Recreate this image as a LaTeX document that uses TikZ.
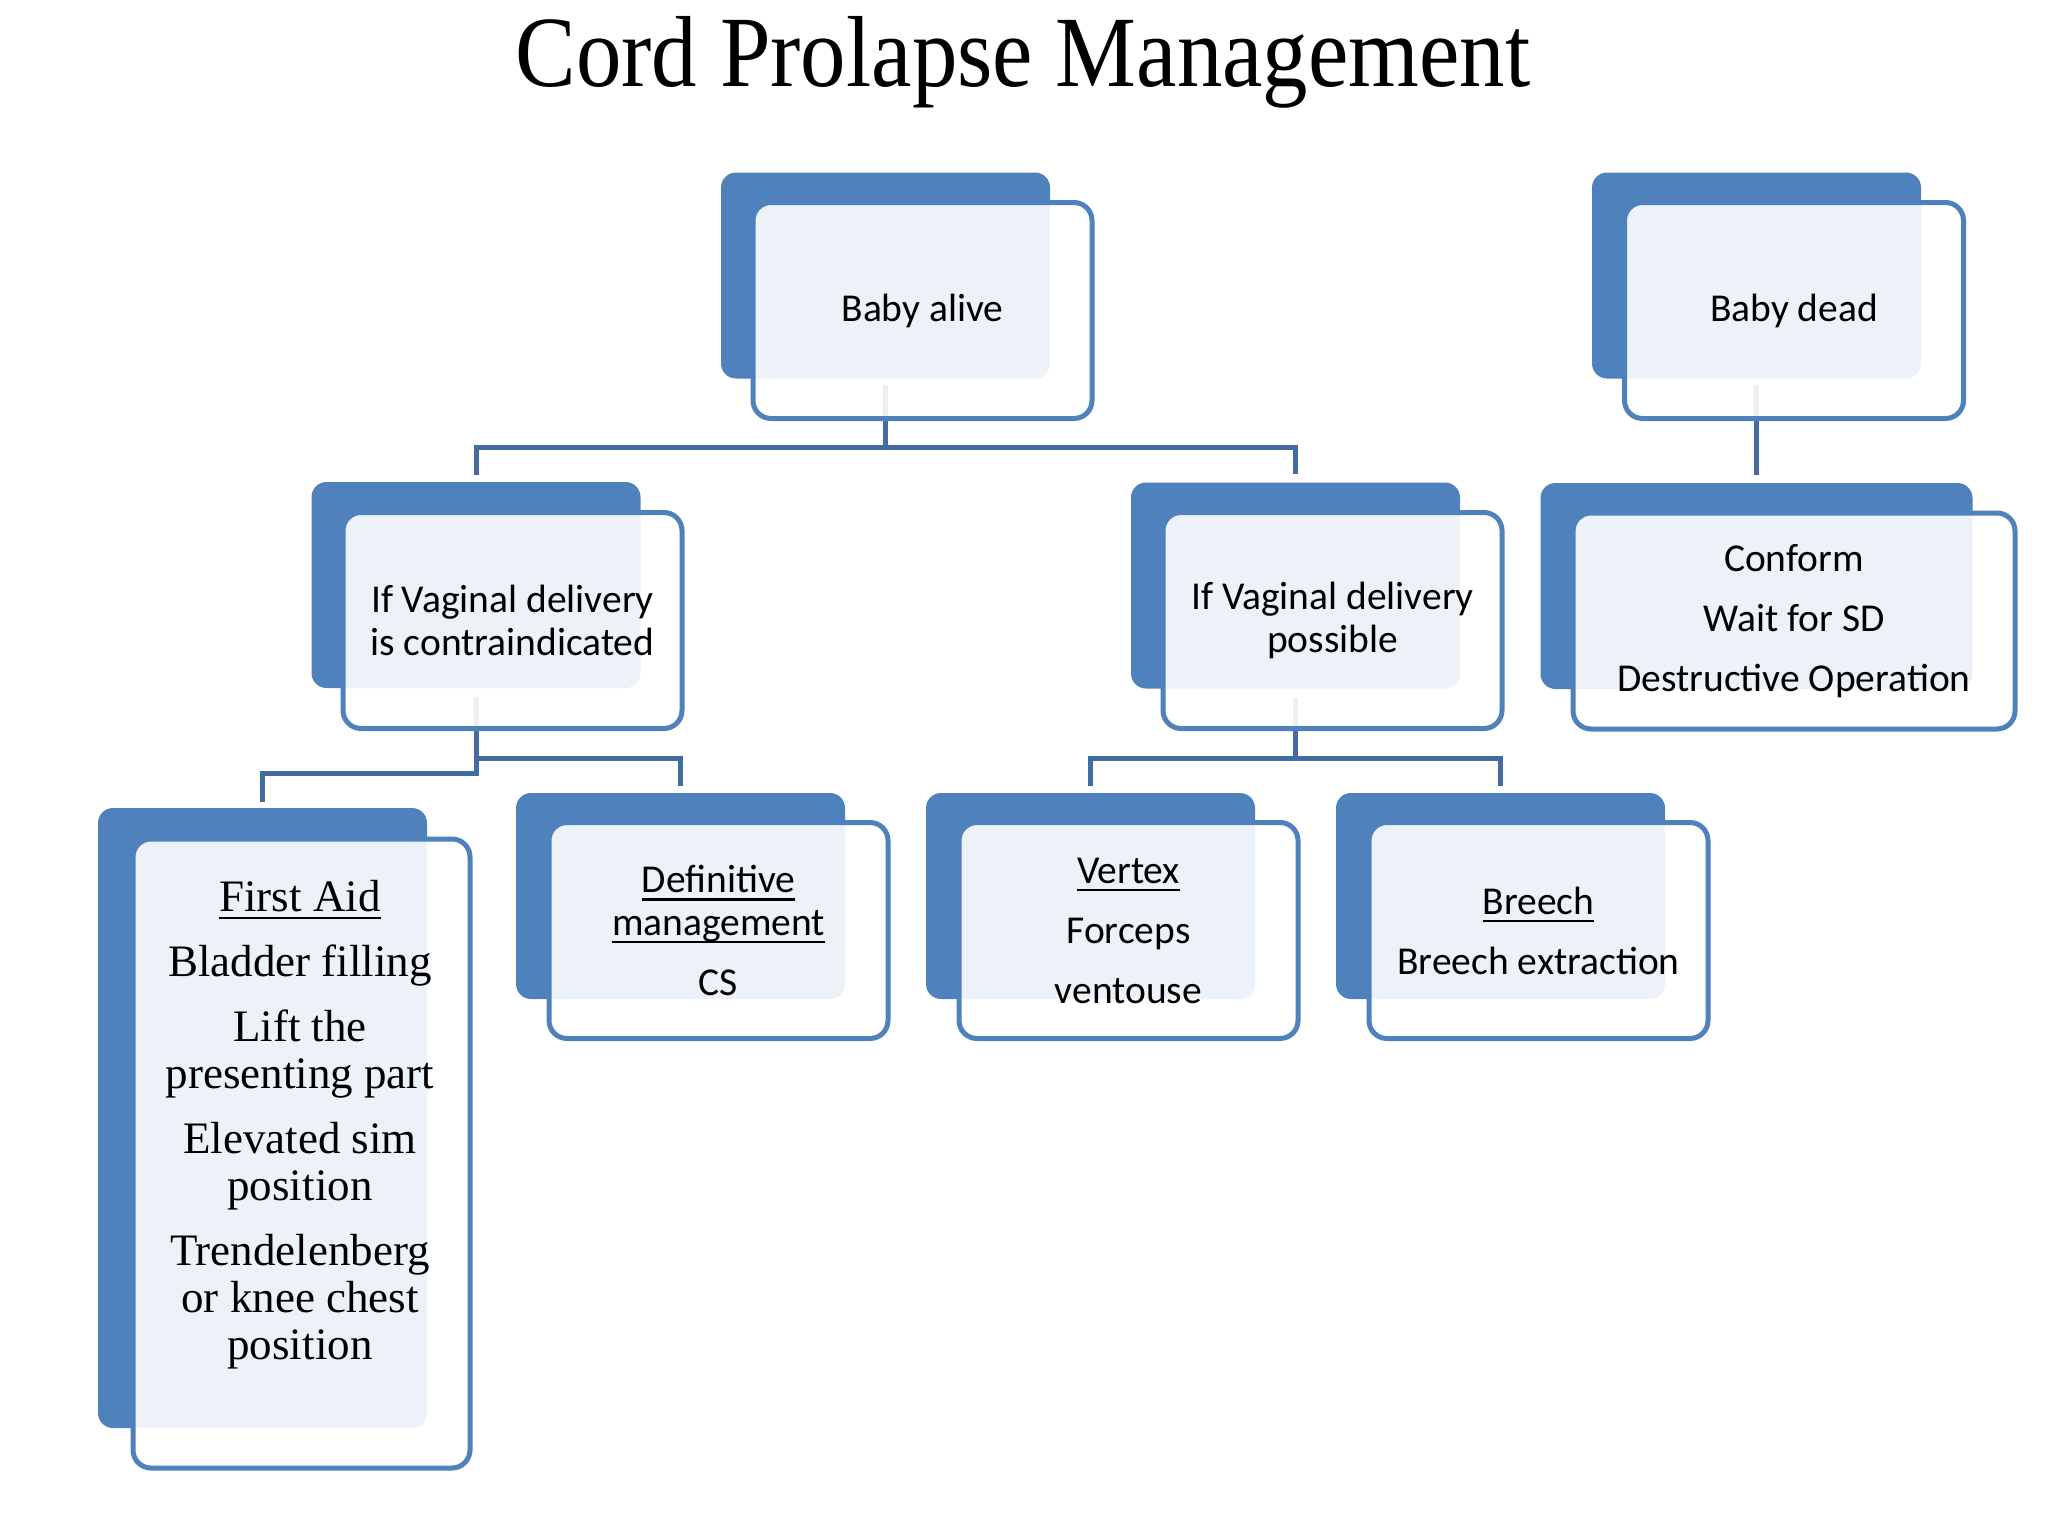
\documentclass[tikz,border=0pt]{standalone}
\usepackage{fontspec}
\setmainfont{Carlito}
\newfontfamily\timesfont{Liberation Serif}
\definecolor{saBlue}{RGB}{79,129,189}
\definecolor{saLink}{RGB}{67,108,163}
\newcommand{\ulbox}[1]{\leavevmode\setbox0\hbox{#1}\rlap{\rule[-8pt]{\wd0}{2.5pt}}\box0}
\tikzset{
  backbox/.style={fill=saBlue,rounded corners=15pt,inner sep=0pt,minimum width=329pt,minimum height=206pt},
  frontbox/.style={draw=saBlue,line width=5pt,fill=white,fill opacity=0.9,text opacity=1,rounded corners=18pt,inner sep=0pt,
    minimum width=339pt,minimum height=216pt,align=center,font=\fontsize{39.5}{42.5}\selectfont},
  link/.style={draw=saLink,line width=5pt}
}

\begin{document}
\begin{tikzpicture}[x=1pt,y=-1pt]
  \path[use as bounding box,fill=white] (0,0) rectangle (2048,1536);
  \node[anchor=base,font=\timesfont\fontsize{101}{110}\selectfont] (title) at (1023,87) {\scalebox{0.9}[1]{Cord Prolapse Management}};
  % back plates
  \node[backbox] (aliveB) at (885.5,275.5) {};
  \node[backbox] (deadB) at (1756.5,275.5) {};
  \node[backbox] (contraB) at (476,585) {};
  \node[backbox] (possibleB) at (1295.5,585.5) {};
  \node[backbox,minimum width=432pt] (conformB) at (1756.5,586) {};
  \node[backbox,minimum height=620pt] (firstB) at (262.5,1118) {};
  \node[backbox] (defB) at (680.5,896) {};
  \node[backbox] (vertexB) at (1090.5,896) {};
  \node[backbox] (breechB) at (1500.5,896) {};
  % connectors
  \draw[link,shorten <=6pt,shorten >=7pt] (aliveB.south) -- ++(0,69) -| (contraB.north);
  \draw[link,shorten <=6pt,shorten >=8pt] (aliveB.south) -- ++(0,69) -| (possibleB.north);
  \draw[link,shorten <=6pt,shorten >=8pt] (deadB.south) -- (conformB.north);
  \draw[link,shorten <=9pt,shorten >=6pt] (contraB.south) -- ++(0,85) -| (firstB.north);
  \draw[link,shorten <=9pt,shorten >=7pt] (contraB.south) -- ++(0,70) -| (defB.north);
  \draw[link,shorten <=9pt,shorten >=7pt] (possibleB.south) -- ++(0,70) -| (vertexB.north);
  \draw[link,shorten <=9pt,shorten >=7pt] (possibleB.south) -- ++(0,70) -| (breechB.north);
  % front boxes
  \node[frontbox] (aliveF) at (922.5,310.5) {Baby alive};
  \node[frontbox] (deadF) at (1794,310.5) {Baby dead};
  \node[frontbox] (contraF) at (512.5,620.5) {If Vaginal delivery\\is contraindicated};
  \node[frontbox] (possibleF) at (1332.5,620.5) {If Vaginal delivery\\possible};
  \node[frontbox,minimum width=442pt] (conformF) at (1794,621) {Conform\\[17.5pt]Wait for SD\\[17.5pt]Destructive Operation};
  \node[frontbox,minimum width=337pt,minimum height=629pt] (firstF) at (301.5,1153.5) {};
  \node[frontbox] (defF) at (718.5,930.5) {\ulbox{Definitive}\\\ulbox{management}\\[17.5pt]CS};
  \node[frontbox] (vertexF) at (1128.5,930.5) {\ulbox{Vertex}\\[17.5pt]Forceps\\[17.5pt]ventouse};
  \node[frontbox] (breechF) at (1538.5,930.5) {\ulbox{Breech}\\[17.5pt]Breech extraction};
  \node[anchor=north,inner sep=0pt,align=center,font=\timesfont\fontsize{45}{47}\selectfont] (firstT) at (300,880)
    {\ulbox{First Aid}\\[18pt]Bladder filling\\[18pt]Lift the\\presenting part\\[18pt]Elevated sim\\position\\[18pt]Trendelenberg\\or knee chest\\position};
\end{tikzpicture}
\end{document}
